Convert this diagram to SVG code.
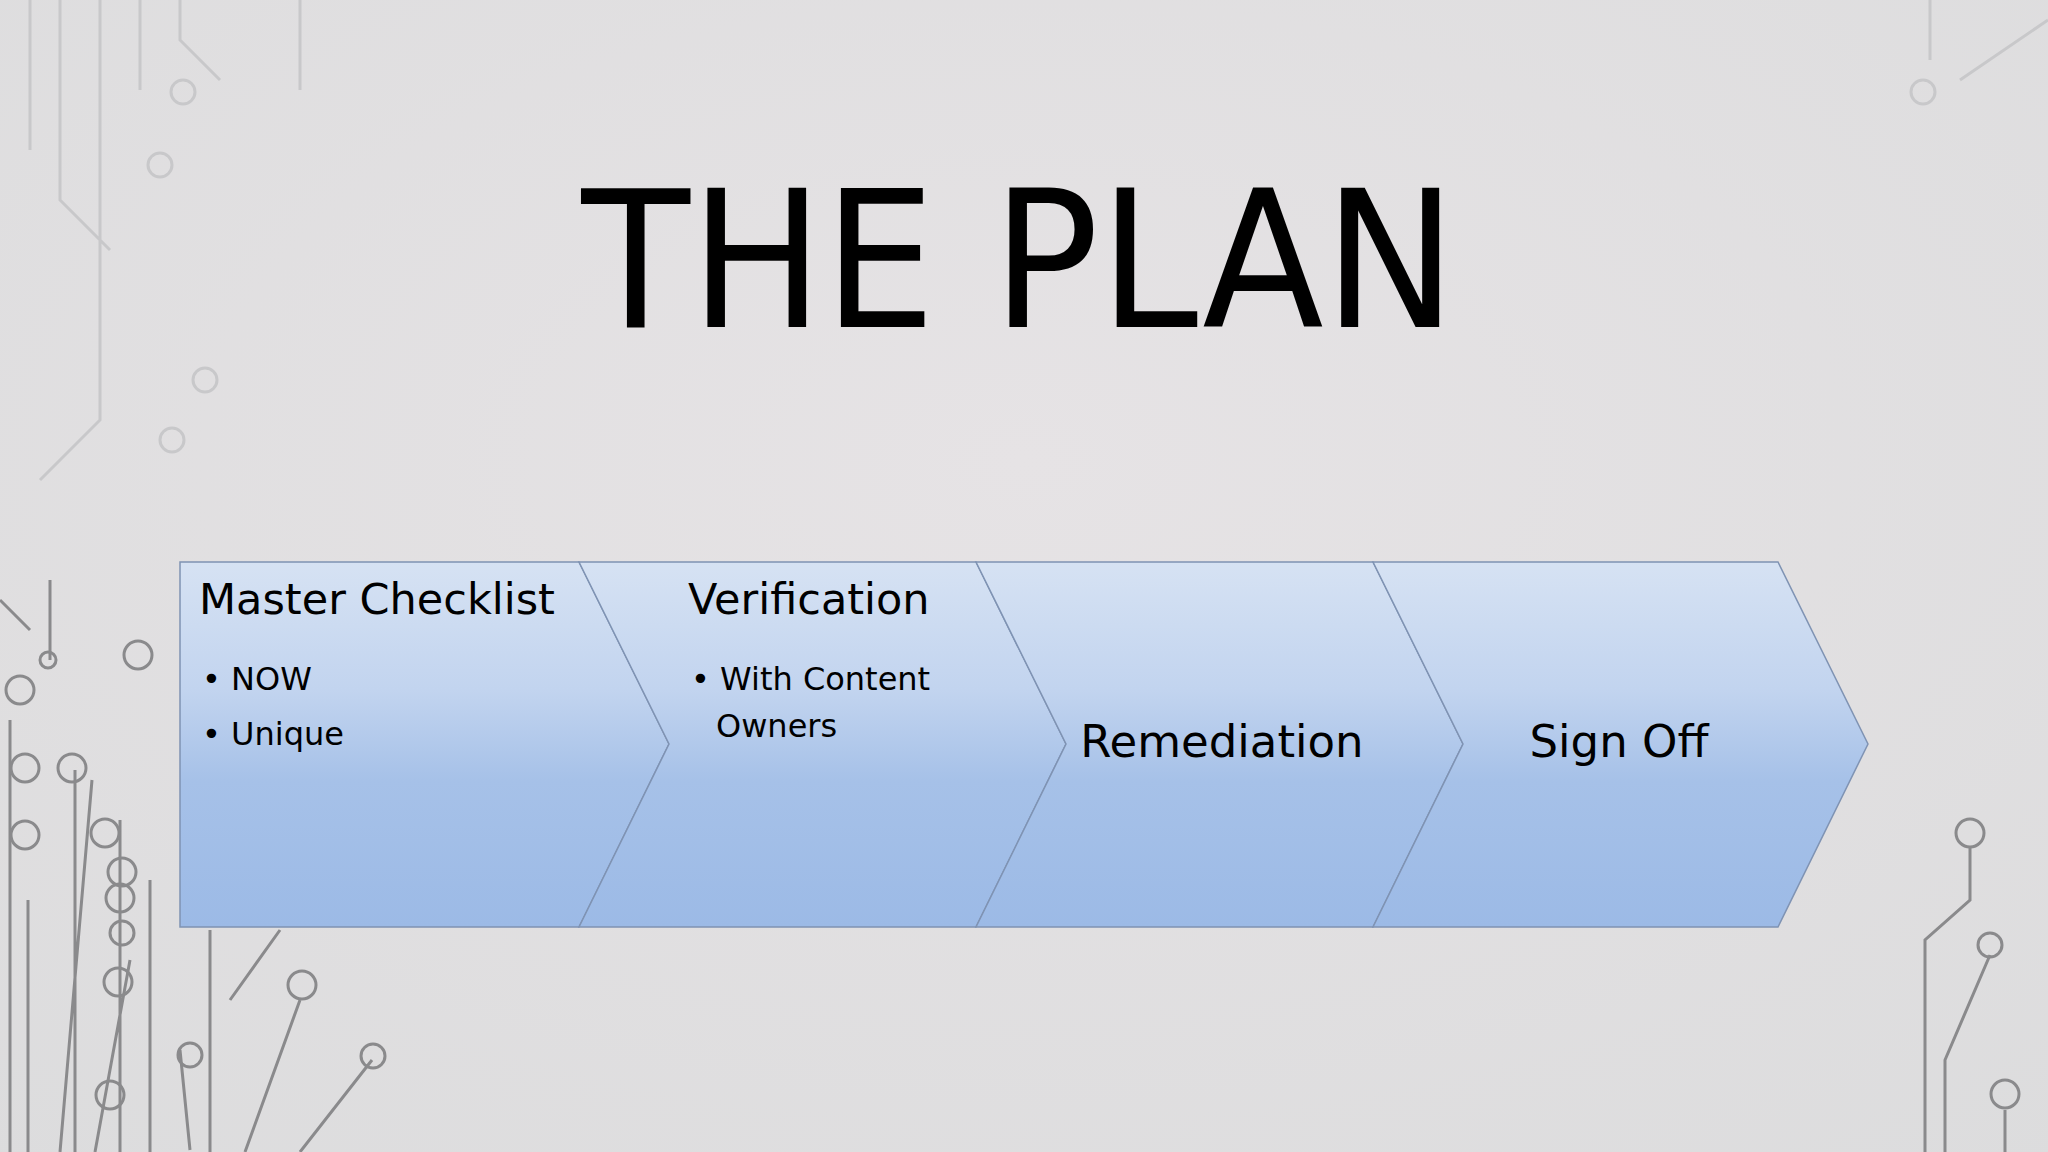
<svg xmlns="http://www.w3.org/2000/svg" width="2048" height="1152" viewBox="0 0 2048 1152">
<defs>
<radialGradient id="bg" cx="0.5" cy="0.4" r="0.8"><stop offset="0" stop-color="#e6e3e5"/><stop offset="1" stop-color="#dcdcdd"/></radialGradient>
<linearGradient id="g" x1="0" y1="0" x2="0" y2="1"><stop offset="0" stop-color="#d6e2f3"/><stop offset="0.35" stop-color="#c2d4ef"/><stop offset="0.6" stop-color="#a6c1e8"/><stop offset="1" stop-color="#9cbae6"/></linearGradient>
<style>
.s{fill:url(#g);stroke:#7f93b3;stroke-width:1.5}
.t{font-family:"DejaVu Sans","Noto Sans",sans-serif;fill:#000}
.c{fill:none;stroke:#8a8a8c;stroke-width:3}
.c2{fill:none;stroke:#c8c8ca;stroke-width:3}
</style>
</defs>
<rect width="2048" height="1152" fill="url(#bg)"/>
<g id="circuit">
<path class="c2" d="M30 0V150M60 0V200L110 250M100 0V420L40 480M140 0V90M180 0V40L220 80M300 0V90"/>
<circle class="c2" cx="183" cy="92" r="12"/><circle class="c2" cx="160" cy="165" r="12"/><circle class="c2" cx="205" cy="380" r="12"/><circle class="c2" cx="172" cy="440" r="12"/>
<path class="c" d="M0 600L30 630M50 580V660M10 720V1152M28 900V1152M75 770V1152M92 780L60 1152M120 820V1152M150 880V1152M130 960L95 1152M190 1150L180 1050M210 930V1152M230 1000L280 930M300 1152L372 1060M245 1152L300 1000"/>
<circle class="c" cx="20" cy="690" r="14"/><circle class="c" cx="25" cy="768" r="14"/><circle class="c" cx="72" cy="768" r="14"/><circle class="c" cx="138" cy="655" r="14"/><circle class="c" cx="25" cy="835" r="14"/><circle class="c" cx="105" cy="833" r="14"/><circle class="c" cx="122" cy="872" r="14"/><circle class="c" cx="120" cy="898" r="14"/><circle class="c" cx="122" cy="933" r="12"/><circle class="c" cx="118" cy="982" r="14"/><circle class="c" cx="190" cy="1055" r="12"/><circle class="c" cx="302" cy="985" r="14"/><circle class="c" cx="373" cy="1056" r="12"/><circle class="c" cx="110" cy="1095" r="14"/><circle class="c" cx="48" cy="660" r="8"/>
<path class="c" d="M1970 846V900L1925 940V1152M1990 955L1945 1060V1152M2005 1110V1152"/>
<circle class="c" cx="1970" cy="833" r="14"/><circle class="c" cx="1990" cy="945" r="12"/><circle class="c" cx="2005" cy="1094" r="14"/>
<path class="c2" d="M2048 20L1960 80M1930 0V60"/><circle class="c2" cx="1923" cy="92" r="12"/>
</g>
<text class="t" x="1019" y="327" font-size="190" text-anchor="middle" textLength="875" lengthAdjust="spacingAndGlyphs">THE PLAN</text>
<g id="n1"><path class="s" d="M180 562H579L669 744L579 927H180Z"/>
<text class="t" x="199" y="614" font-size="43">Master Checklist</text>
<text class="t" x="202" y="690" font-size="32">• NOW</text>
<text class="t" x="202" y="745" font-size="32">• Unique</text></g>
<g id="n2"><path class="s" d="M579 562H976L1066 744L976 927H579L669 744Z"/>
<text class="t" x="688" y="614" font-size="43">Verification</text>
<text class="t" x="691" y="690" font-size="32">• With Content</text>
<text class="t" x="716" y="737" font-size="32">Owners</text></g>
<g id="n3"><path class="s" d="M976 562H1373L1463 744L1373 927H976L1066 744Z"/>
<text class="t" x="1222" y="757" font-size="45" text-anchor="middle">Remediation</text></g>
<g id="n4"><path class="s" d="M1373 562H1778L1868 744L1778 927H1373L1463 744Z"/>
<text class="t" x="1619" y="757" font-size="45" text-anchor="middle">Sign Off</text></g>
<g id="connectors"/>
</svg>
